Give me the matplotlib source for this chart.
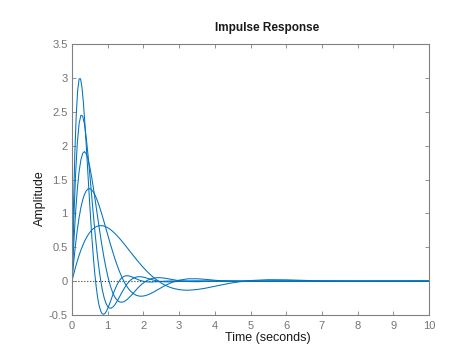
import numpy as np
import matplotlib
matplotlib.use("Agg")
import matplotlib.pyplot as plt

plt.rcParams['font.family'] = ['Liberation Sans', 'DejaVu Sans']

# sample times (seconds)
t_a = np.concatenate([np.arange(0, 2.0001, 0.04), np.arange(2.1, 5.0001, 0.1), np.arange(5.5, 10.0001, 0.5)])
t_b = np.concatenate([np.arange(0, 3.0001, 0.05), np.arange(3.25, 6.0001, 0.25), np.arange(6.5, 10.0001, 0.5)])

# amplitudes (thousandths) read for each of the five responses
amp1 = [0, 1077, 1895, 2470, 2824, 2986, 2987, 2858, 2631, 2335, 1997, 1639, 1280, 938, 622, 341, 102, -95, -249, -362,
        -436, -478, -490, -479, -449, -405, -353, -296, -237, -180, -126, -77, -35, 1, 29, 51, 66, 75, 79, 79,
        76, 70, 62, 53, 43, 34, 25, 16, 9, 3, -3,
        -11, -13, -11, -8, -4, -1, 1, 2, 0, 0, 0, 0, 0, 0, 0, 0, 0, 0, 0, 0, 0, 0, 0, 0, 0, 0, 0, 0, 0, 0,
        0, 0, 0, 0, 0, 0, 0, 0, 0, 0]
amp2 = [0, 899, 1576, 2046, 2329, 2449, 2435, 2314, 2112, 1856, 1568, 1267, 969, 688, 432, 209, 21, -131, -245, -326,
        -376, -398, -398, -380, -349, -308, -262, -213, -164, -118, -75, -38, -7, 19, 38, 52, 60, 65, 65, 63,
        58, 51, 44, 36, 28, 20, 13, 7, 2, -3, -6, -8, -10, -10, -11, -10, -10, -8, -7, -6, -5,
        0, 2, 1, 0, 0, 0, 0, 0, 0, 0, 0, 0, 0, 0, 0, 0, 0, 0, 0, 0]
amp3 = [0, 559, 1013, 1365, 1623, 1793, 1887, 1912, 1879, 1800, 1682, 1536, 1371, 1194, 1012, 830, 655, 489, 336, 199,
        77, -26, -113, -182, -235, -273, -298, -310, -311, -304, -289, -268, -243, -216, -187, -157, -127, -99, -73, -48,
        -27, -8, 8, 22, 32, 40, 46, 49, 51, 51, 49, 46, 43, 39, 34, 29, 24, 20, 15, 11, 7,
        -6, -8, -5, -2, 1, 1, 1, 0, 0, 0, 0, 0, 0, 0, 0, 0, 0, 0, 0, 0]
amp4 = [0, 293, 547, 764, 943, 1088, 1200, 1281, 1334, 1361, 1365, 1348, 1314, 1264, 1202, 1129, 1048, 962, 871, 778,
        685, 593, 503, 416, 333, 255, 183, 116, 55, 1, -47, -88, -124, -153, -177, -195, -209, -217, -222, -222,
        -220, -214, -206, -196, -184, -171, -157, -142, -127, -112, -97, -82, -68, -55, -42, -30, -19, -9, 0, 7, 14,
        34, 35, 26, 13, 3, -3, -6, -5, -4, -2, 0, 1, 1, 0, 0, 0, 0, 0, 0, 0]
amp5 = [0, 87, 169, 246, 317, 383, 444, 499, 550, 596, 637, 674, 706, 733, 757, 776, 792, 804, 812, 817,
        819, 818, 815, 808, 799, 788, 775, 760, 743, 724, 704, 683, 660, 637, 613, 588, 562, 536, 509, 483,
        456, 429, 402, 376, 349, 323, 297, 272, 248, 223, 200,
        144, 93, 47, 7, -28, -58, -82, -101, -115, -125, -131, -134, -133, -129, -124, -116, -108, -98, -87, -76,
        -65, -55, -44, -34, -25, -17, -9, -2, 4, 9,
        21, 19, 11, 3, -2, -4, -3, -2, 0, 0]

series = [(t_a, amp1), (t_b, amp2), (t_b, amp3), (t_b, amp4), (t_a, amp5)]

xticks = [0, 1, 2, 3, 4, 5, 6, 7, 8, 9, 10]
yticks = [-0.5, 0, 0.5, 1, 1.5, 2, 2.5, 3, 3.5]
yticklabels = ['-0.5', '0', '0.5', '1', '1.5', '2', '2.5', '3', '3.5']

fig = plt.figure(figsize=(4.74, 3.55), dpi=100)
ax = fig.add_axes([72/474, 1-315/355, (429-72)/474, (315-44)/355])

blue = '#0072BD'
for tt, a in series:
    ax.plot(tt, np.array(a)/1000.0, color=blue, lw=0.75)
ax.axhline(0, color='#333333', ls=':', lw=0.8, zorder=0)

ax.set_xlim(0, 10)
ax.set_ylim(-0.5, 3.5)
ax.set_xticks(xticks)
ax.set_yticks(yticks)
ax.set_yticklabels(yticklabels)

gray = '#808080'
for s in ax.spines.values():
    s.set_color(gray)
    s.set_linewidth(0.8)
ax.tick_params(direction='in', length=3, width=0.6, colors=gray, labelsize=8,
               top=True, right=True, labelcolor='#747474')
ax.tick_params(axis='x', pad=4)
ax.tick_params(axis='y', pad=3)

fig.text(267/474, 1-27.5/355, 'Impulse Response', ha='center', va='center',
         fontsize=8.5, fontweight='bold', color='#1a1a1a')
fig.text(268/474, 1-337.5/355, 'Time (seconds)', ha='center', va='center',
         fontsize=9, color='#1a1a1a')
fig.text(40/474, 1-198/355, 'Amplitude', ha='center', va='center', rotation=90,
         fontsize=9, color='#1a1a1a')

fig.savefig('out.png', dpi=100)
